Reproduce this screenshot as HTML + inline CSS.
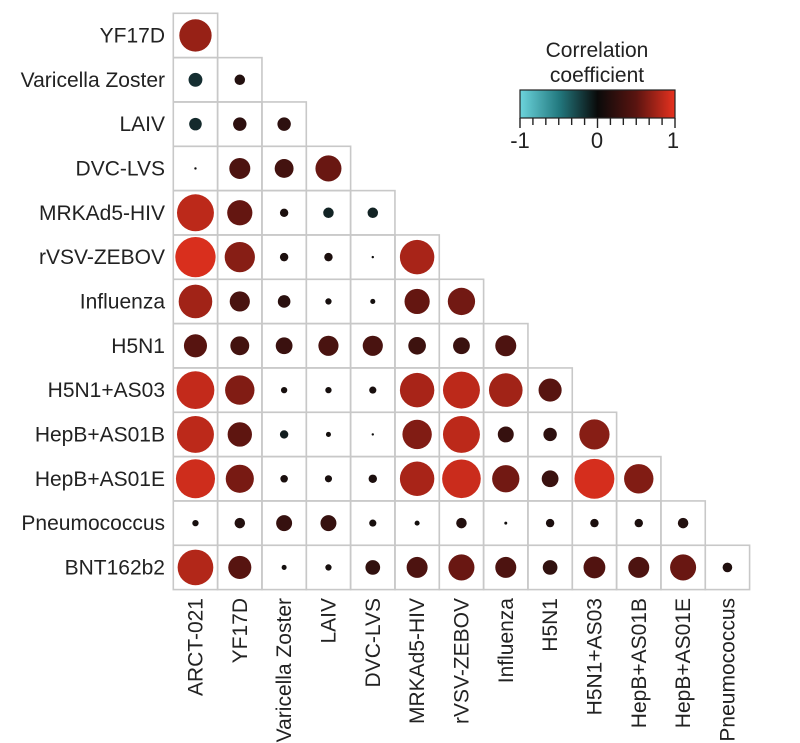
<!DOCTYPE html>
<html><head><meta charset="utf-8"><style>
html,body{margin:0;padding:0;background:#fff;width:800px;height:743px;overflow:hidden}
text{font-family:"Liberation Sans",Arial,sans-serif;fill:#222}
</style></head><body>
<svg id="chart" width="800" height="743" viewBox="0 0 800 743" xmlns="http://www.w3.org/2000/svg">
<defs>
<linearGradient id="cg" x1="0" x2="1" y1="0" y2="0">
<stop offset="0" stop-color="#6cd4dc"/><stop offset="0.25" stop-color="#237a80"/><stop offset="0.5" stop-color="#0a0a0a"/><stop offset="0.75" stop-color="#5a1410"/><stop offset="1" stop-color="#e8321f"/>
</linearGradient>
</defs>
<g id="grid"></g>
<g id="dots"></g>
<g id="rowlabels"></g>
<g id="collabels"></g>
<g>
<text x="597" y="57" font-size="21" text-anchor="middle">Correlation</text>
<text x="597" y="82" font-size="21" text-anchor="middle">coefficient</text>
<rect x="520" y="90" width="155" height="28" fill="url(#cg)" stroke="#222" stroke-width="1.2"/>
<g id="legticks"></g>
<text x="520" y="148" font-size="22" text-anchor="middle">-1</text>
<text x="597" y="148" font-size="22" text-anchor="middle">0</text>
<text x="673" y="148" font-size="22" text-anchor="middle">1</text>
</g>
</svg>
<script>
const rowNames=["YF17D","Varicella Zoster","LAIV","DVC-LVS","MRKAd5-HIV","rVSV-ZEBOV","Influenza","H5N1","H5N1+AS03","HepB+AS01B","HepB+AS01E","Pneumococcus","BNT162b2"];
const colNames=["ARCT-021","YF17D","Varicella Zoster","LAIV","DVC-LVS","MRKAd5-HIV","rVSV-ZEBOV","Influenza","H5N1","H5N1+AS03","HepB+AS01B","HepB+AS01E","Pneumococcus"];
const corr=[
[0.77],
[-0.33,0.25],
[-0.3,0.32,0.32],
[0.05,0.5,0.45,0.62],
[0.88,0.6,0.2,-0.25,-0.25],
[0.96,0.72,0.2,0.2,0.04,0.82],
[0.8,0.48,0.3,0.15,0.12,0.6,0.65],
[0.55,0.45,0.4,0.48,0.48,0.42,0.4,0.5],
[0.9,0.7,0.15,0.15,0.17,0.82,0.88,0.8,0.55],
[0.88,0.58,-0.2,0.12,0.04,0.7,0.88,0.38,0.32,0.72],
[0.93,0.67,0.18,0.17,0.2,0.82,0.92,0.65,0.4,0.95,0.7],
[0.15,0.25,0.38,0.38,0.17,0.12,0.25,0.07,0.2,0.2,0.2,0.25],
[0.85,0.55,0.12,0.15,0.35,0.5,0.62,0.5,0.35,0.52,0.5,0.62,0.23]
];
const NS="http://www.w3.org/2000/svg";
const x0=173.3,y0=13.3,cell=44.33,maxR=21;
function xPos(c){return x0+c*cell;}
function yPos(r){return y0+r*cell;}
function rad(v){return Math.max(1.2,Math.abs(v)*maxR);}
function lerp(a,b,t){return a.map((x,i)=>Math.round(x+(b[i]-x)*t));}
function color(v){
  const blk=[14,14,14];
  if(v>=0){const mid=[90,20,16],hi=[232,50,31];
    const t=Math.pow(v,1.6);
    const c=t<0.4?lerp(blk,mid,t/0.4):lerp(mid,hi,(t-0.4)/0.6);return `rgb(${c})`;}
  const t=Math.pow(-v,1.6);const mid=[30,90,96],lo=[108,212,220];
  const c=t<0.4?lerp(blk,mid,t/0.4):lerp(mid,lo,(t-0.4)/0.6);return `rgb(${c})`;
}
const grid=document.getElementById('grid'),dots=document.getElementById('dots'),rl=document.getElementById('rowlabels'),cl=document.getElementById('collabels');
corr.forEach((row,r)=>{
  row.forEach((v,c)=>{
    const rect=document.createElementNS(NS,'rect');
    rect.setAttribute('x',xPos(c));rect.setAttribute('y',yPos(r));
    rect.setAttribute('width',cell);rect.setAttribute('height',cell);
    rect.setAttribute('fill','none');rect.setAttribute('stroke','#c8c8c8');rect.setAttribute('stroke-width','1.6');
    
    
    grid.appendChild(rect);
    const ci=document.createElementNS(NS,'circle');
    ci.setAttribute('cx',xPos(c)+cell/2);ci.setAttribute('cy',yPos(r)+cell/2);
    ci.setAttribute('r',rad(v));ci.setAttribute('fill',color(v));
    
    
    dots.appendChild(ci);
  });
});
rowNames.forEach((n,r)=>{
  const t=document.createElementNS(NS,'text');
  t.setAttribute('x',165);t.setAttribute('y',yPos(r)+cell/2+7);
  t.setAttribute('text-anchor','end');t.setAttribute('font-size','21');
  t.textContent=n;
  
  
  rl.appendChild(t);
});
colNames.forEach((n,c)=>{
  const t=document.createElementNS(NS,'text');
  const x=xPos(c)+cell/2+7,y=598;
  t.setAttribute('x',x);t.setAttribute('y',y);
  t.setAttribute('transform',`rotate(-90 ${x} ${y})`);
  t.setAttribute('text-anchor','end');t.setAttribute('font-size','21');
  t.textContent=n;
  
  
  cl.appendChild(t);
});
const lt=document.getElementById('legticks');
for(let i=0;i<=12;i++){
  const l=document.createElementNS(NS,'line');
  const x=520+i*155/12;
  l.setAttribute('x1',x);l.setAttribute('x2',x);l.setAttribute('y1',118);l.setAttribute('y2',i%6===0?128:125);
  l.setAttribute('stroke','#222');l.setAttribute('stroke-width','1.4');
  
  
  lt.appendChild(l);
}
</script>
</body></html>
